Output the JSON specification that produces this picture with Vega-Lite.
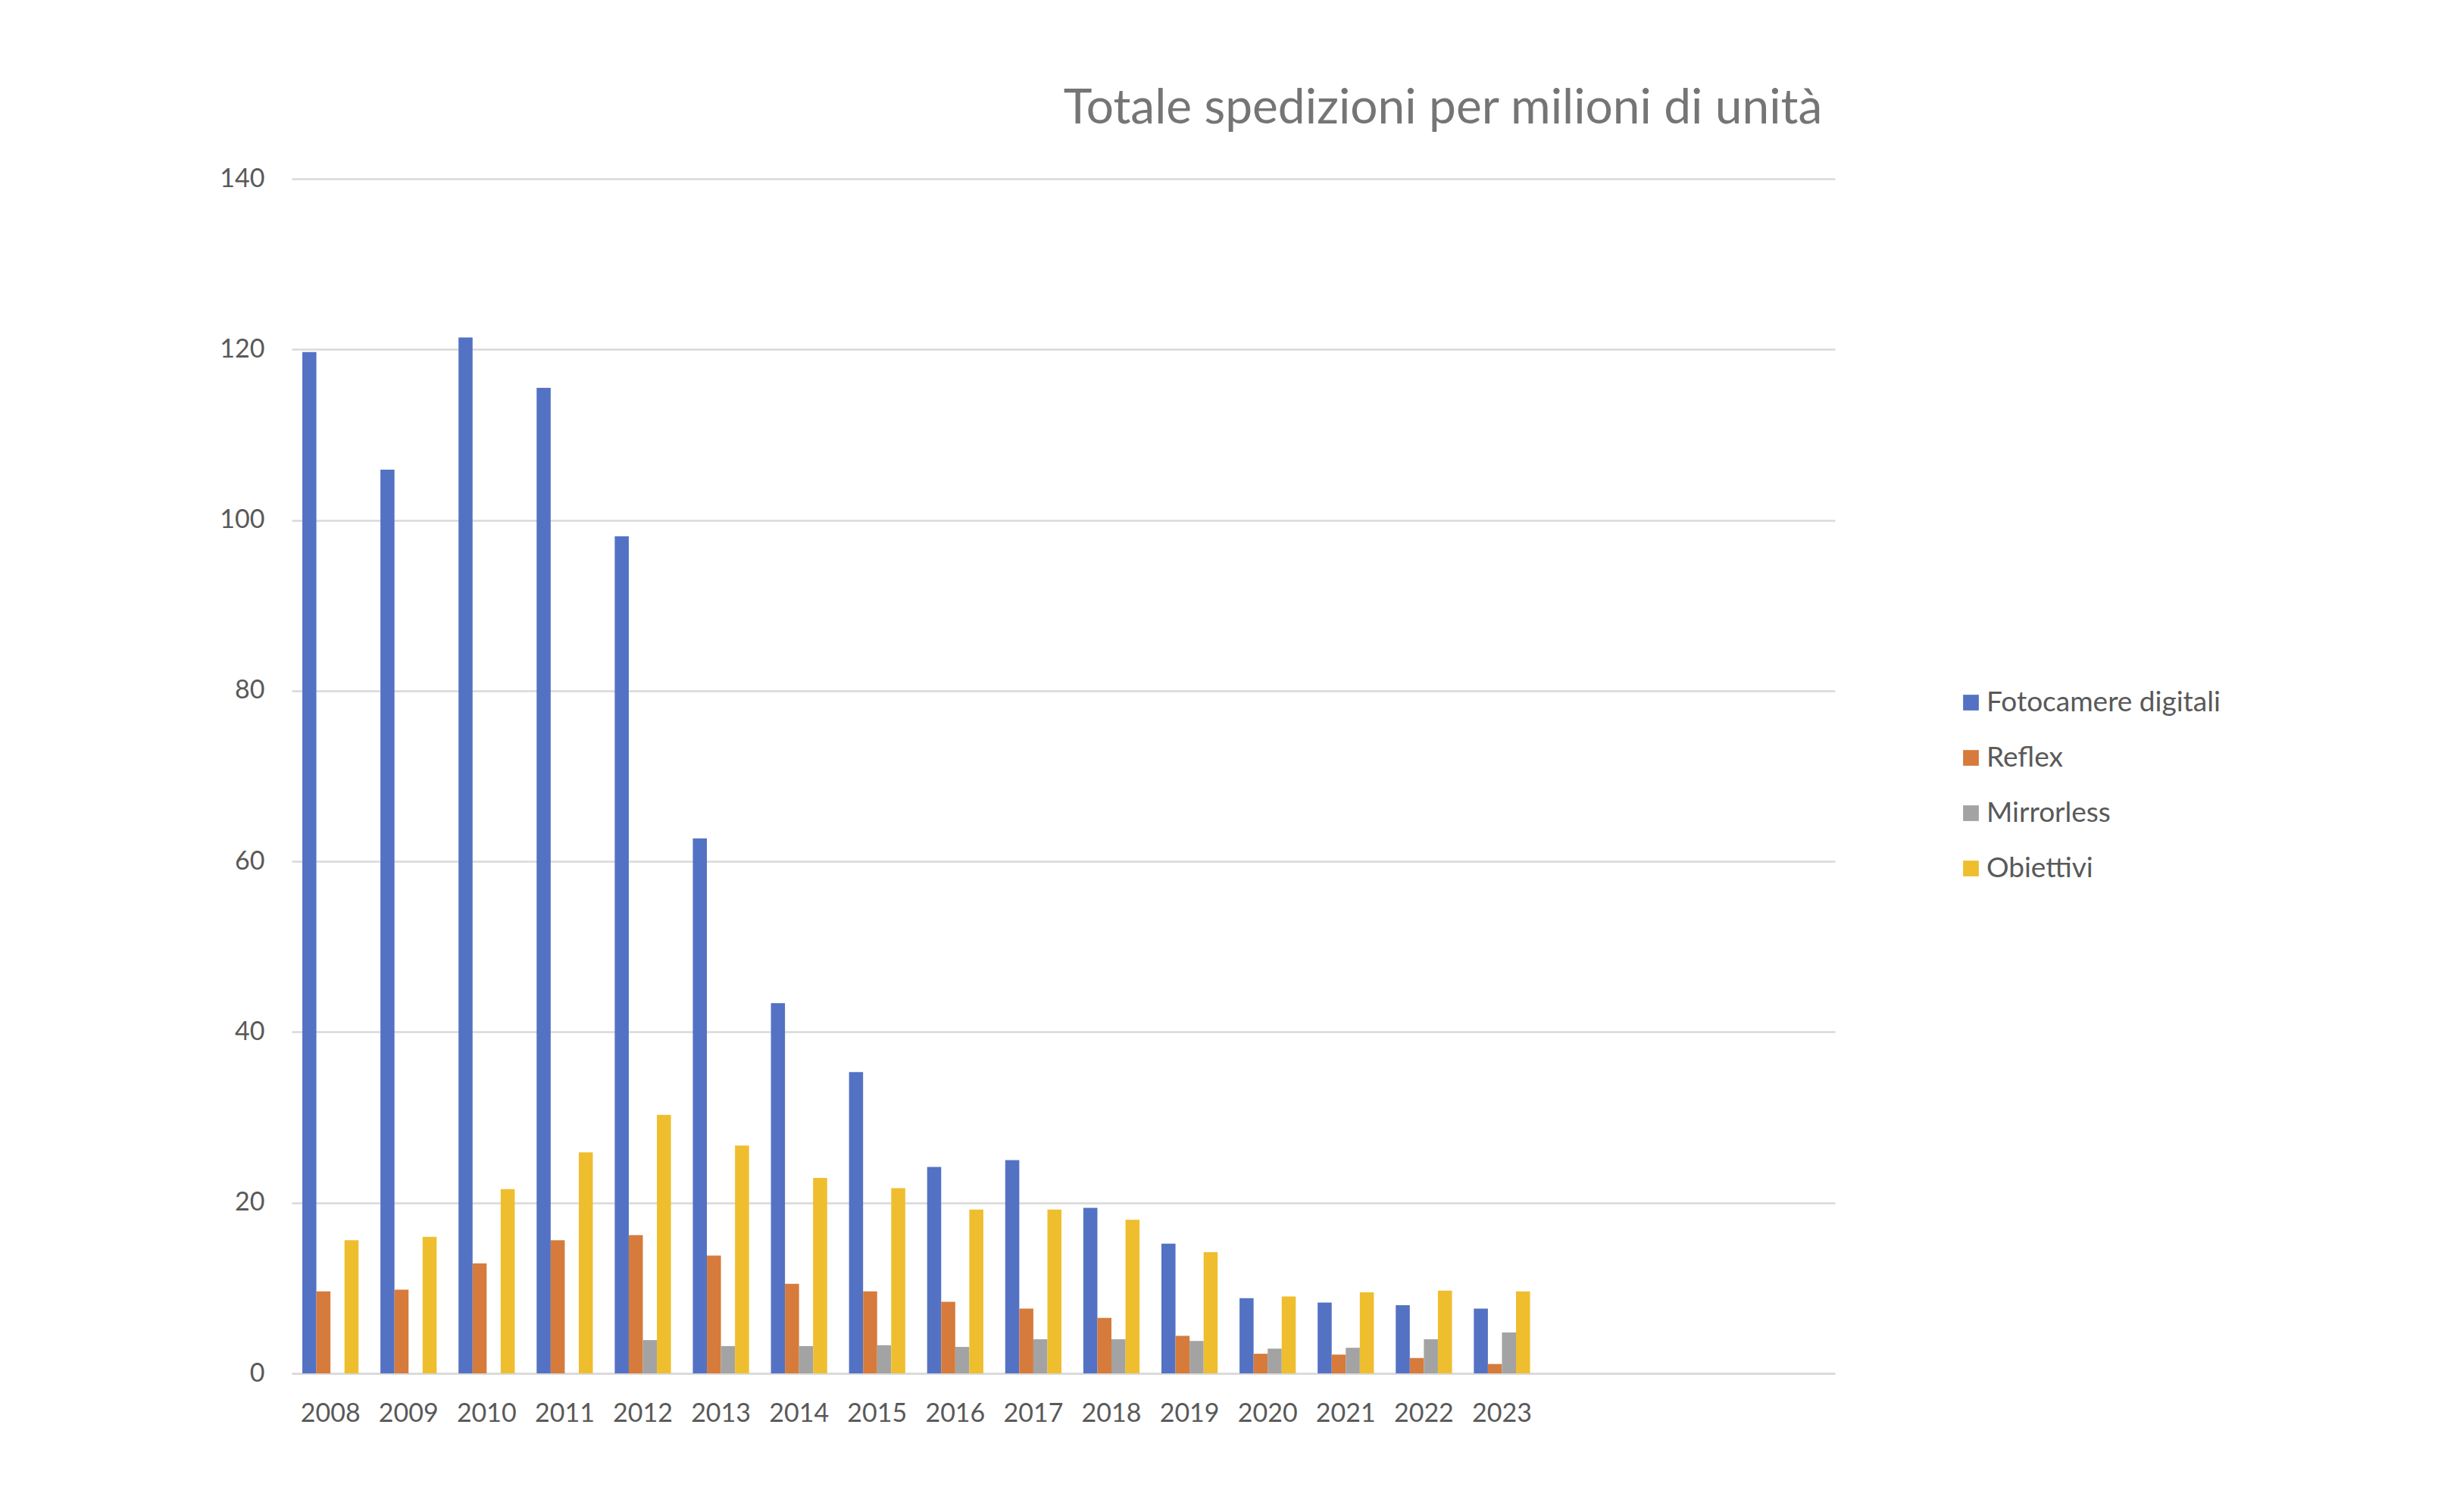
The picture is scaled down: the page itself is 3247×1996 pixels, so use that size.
{
  "$schema": "https://vega.github.io/schema/vega-lite/v6.json",
  "width": 2037,
  "height": 1577,
  "autosize": {"type": "none"},
  "padding": {"left": 385, "top": 236, "right": 825, "bottom": 183},
  "background": "white",
  "title": {
    "text": "Totale spedizioni per milioni di unità",
    "anchor": "middle",
    "frame": "group",
    "dx": 501,
    "offset": 43,
    "font": "Lato",
    "fontSize": 64,
    "fontWeight": "normal",
    "color": "#757575"
  },
  "data": {
    "values": [
      {"year": "2008", "serie": "Fotocamere digitali", "value": 119.7},
      {"year": "2009", "serie": "Fotocamere digitali", "value": 105.9},
      {"year": "2010", "serie": "Fotocamere digitali", "value": 121.4},
      {"year": "2011", "serie": "Fotocamere digitali", "value": 115.5},
      {"year": "2012", "serie": "Fotocamere digitali", "value": 98.1},
      {"year": "2013", "serie": "Fotocamere digitali", "value": 62.7},
      {"year": "2014", "serie": "Fotocamere digitali", "value": 43.4},
      {"year": "2015", "serie": "Fotocamere digitali", "value": 35.3},
      {"year": "2016", "serie": "Fotocamere digitali", "value": 24.2},
      {"year": "2017", "serie": "Fotocamere digitali", "value": 25.0},
      {"year": "2018", "serie": "Fotocamere digitali", "value": 19.4},
      {"year": "2019", "serie": "Fotocamere digitali", "value": 15.2},
      {"year": "2020", "serie": "Fotocamere digitali", "value": 8.8},
      {"year": "2021", "serie": "Fotocamere digitali", "value": 8.3},
      {"year": "2022", "serie": "Fotocamere digitali", "value": 8.0},
      {"year": "2023", "serie": "Fotocamere digitali", "value": 7.6},
      {"year": "2008", "serie": "Reflex", "value": 9.6},
      {"year": "2009", "serie": "Reflex", "value": 9.8},
      {"year": "2010", "serie": "Reflex", "value": 12.9},
      {"year": "2011", "serie": "Reflex", "value": 15.6},
      {"year": "2012", "serie": "Reflex", "value": 16.2},
      {"year": "2013", "serie": "Reflex", "value": 13.8},
      {"year": "2014", "serie": "Reflex", "value": 10.5},
      {"year": "2015", "serie": "Reflex", "value": 9.6},
      {"year": "2016", "serie": "Reflex", "value": 8.4},
      {"year": "2017", "serie": "Reflex", "value": 7.6},
      {"year": "2018", "serie": "Reflex", "value": 6.5},
      {"year": "2019", "serie": "Reflex", "value": 4.4},
      {"year": "2020", "serie": "Reflex", "value": 2.3},
      {"year": "2021", "serie": "Reflex", "value": 2.2},
      {"year": "2022", "serie": "Reflex", "value": 1.8},
      {"year": "2023", "serie": "Reflex", "value": 1.1},
      {"year": "2012", "serie": "Mirrorless", "value": 3.9},
      {"year": "2013", "serie": "Mirrorless", "value": 3.2},
      {"year": "2014", "serie": "Mirrorless", "value": 3.2},
      {"year": "2015", "serie": "Mirrorless", "value": 3.3},
      {"year": "2016", "serie": "Mirrorless", "value": 3.1},
      {"year": "2017", "serie": "Mirrorless", "value": 4.0},
      {"year": "2018", "serie": "Mirrorless", "value": 4.0},
      {"year": "2019", "serie": "Mirrorless", "value": 3.8},
      {"year": "2020", "serie": "Mirrorless", "value": 2.9},
      {"year": "2021", "serie": "Mirrorless", "value": 3.0},
      {"year": "2022", "serie": "Mirrorless", "value": 4.0},
      {"year": "2023", "serie": "Mirrorless", "value": 4.8},
      {"year": "2008", "serie": "Obiettivi", "value": 15.6},
      {"year": "2009", "serie": "Obiettivi", "value": 16.0},
      {"year": "2010", "serie": "Obiettivi", "value": 21.6},
      {"year": "2011", "serie": "Obiettivi", "value": 25.9},
      {"year": "2012", "serie": "Obiettivi", "value": 30.3},
      {"year": "2013", "serie": "Obiettivi", "value": 26.7},
      {"year": "2014", "serie": "Obiettivi", "value": 22.9},
      {"year": "2015", "serie": "Obiettivi", "value": 21.7},
      {"year": "2016", "serie": "Obiettivi", "value": 19.2},
      {"year": "2017", "serie": "Obiettivi", "value": 19.2},
      {"year": "2018", "serie": "Obiettivi", "value": 18.0},
      {"year": "2019", "serie": "Obiettivi", "value": 14.2},
      {"year": "2020", "serie": "Obiettivi", "value": 9.0},
      {"year": "2021", "serie": "Obiettivi", "value": 9.5},
      {"year": "2022", "serie": "Obiettivi", "value": 9.7},
      {"year": "2023", "serie": "Obiettivi", "value": 9.6}
    ]
  },
  "mark": {"type": "bar"},
  "encoding": {
    "x": {
      "field": "year",
      "type": "nominal",
      "scale": {
        "domain": ["2008", "2009", "2010", "2011", "2012", "2013", "2014", "2015", "2016", "2017", "2018", "2019", "2020", "2021", "2022", "2023", "2024", "2025", "2026"],
        "paddingInner": 0.28,
        "paddingOuter": 0.52,
        "align": 0.131
      },
      "axis": {
        "title": null,
        "values": ["2008", "2009", "2010", "2011", "2012", "2013", "2014", "2015", "2016", "2017", "2018", "2019", "2020", "2021", "2022", "2023"],
        "labelAngle": 0,
        "ticks": false,
        "domain": true,
        "domainColor": "#D9D9D9",
        "domainWidth": 2.5,
        "labelPadding": 36,
        "labelFont": "Lato",
        "labelFontSize": 34,
        "labelColor": "#595959"
      }
    },
    "xOffset": {
      "field": "serie",
      "type": "nominal",
      "scale": {"domain": ["Fotocamere digitali", "Reflex", "Mirrorless", "Obiettivi"], "paddingInner": 0, "paddingOuter": 0}
    },
    "y": {
      "field": "value",
      "type": "quantitative",
      "scale": {"domain": [0, 140], "nice": false},
      "axis": {
        "title": null,
        "values": [0, 20, 40, 60, 80, 100, 120, 140],
        "domain": false,
        "ticks": false,
        "grid": true,
        "gridColor": "#D9D9D9",
        "gridWidth": 2.5,
        "labelPadding": 36,
        "labelFont": "Lato",
        "labelFontSize": 34,
        "labelColor": "#595959"
      }
    },
    "color": {
      "field": "serie",
      "type": "nominal",
      "scale": {
        "domain": ["Fotocamere digitali", "Reflex", "Mirrorless", "Obiettivi"],
        "range": ["#5472C4", "#D67B3B", "#A3A3A3", "#EFBE2E"]
      },
      "legend": {
        "title": null,
        "orient": "none",
        "legendX": 2198,
        "legendY": 673,
        "padding": 0,
        "symbolType": "square",
        "symbolSize": 430,
        "symbolStrokeWidth": 0,
        "labelOffset": 2,
        "labelFont": "Lato",
        "labelFontSize": 37,
        "labelColor": "#595959",
        "rowPadding": 35,
        "labelLimit": 600
      }
    }
  },
  "config": {"view": {"stroke": null}}
}
